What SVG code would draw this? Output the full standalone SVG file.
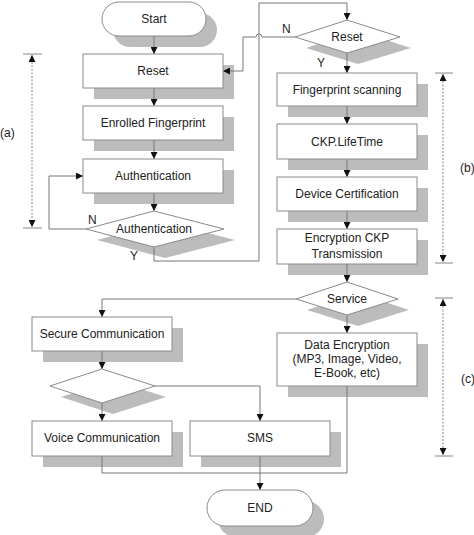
<svg xmlns="http://www.w3.org/2000/svg" width="474" height="535" viewBox="0 0 474 535">
<defs>
<style>
.box{fill:#fff;stroke:#8a8a8a;stroke-width:1}
.sh{fill:#bcbcbc;stroke:none}
.t{font-family:"Liberation Sans",Arial,sans-serif;font-size:12px;fill:#222;text-anchor:middle}
.lb{font-family:"Liberation Sans",Arial,sans-serif;font-size:12px;fill:#222}
.c{fill:none;stroke:#777;stroke-width:1}
.dot{fill:none;stroke:#888;stroke-width:1;stroke-dasharray:2,1.5}
.tick{stroke:#888;stroke-width:1}
</style>
<marker id="ah" viewBox="0 0 8 8" refX="8" refY="4" markerWidth="7" markerHeight="7" markerUnits="userSpaceOnUse" orient="auto">
<path d="M0,0 L8,4 L0,8 Z" fill="#111"/>
</marker>
<marker id="bh" viewBox="0 0 8 8" refX="8" refY="4" markerWidth="7" markerHeight="7" markerUnits="userSpaceOnUse" orient="auto-start-reverse">
<path d="M0,0 L8,4 L0,8 Z" fill="#111"/>
</marker>
</defs>
<rect width="474" height="535" fill="#fff"/>

<g id="shadows">
<rect class="sh" x="113" y="13" width="104" height="34" rx="17"/>
<rect class="sh" x="94" y="65" width="140" height="34"/>
<rect class="sh" x="94" y="117" width="140" height="34"/>
<rect class="sh" x="94" y="170" width="140" height="34"/>
<polygon class="sh" points="165,222 235,240 165,258 97,240"/>
<polygon class="sh" points="358,31 411,48 358,64 306,48"/>
<rect class="sh" x="288" y="84" width="140" height="33"/>
<rect class="sh" x="288" y="135" width="140" height="35"/>
<rect class="sh" x="288" y="188" width="140" height="34"/>
<rect class="sh" x="288" y="240" width="140" height="35"/>
<polygon class="sh" points="358,293 409,310 358,326 307,310"/>
<rect class="sh" x="288" y="344" width="140" height="53"/>
<rect class="sh" x="43" y="328" width="140" height="34"/>
<polygon class="sh" points="113,380 166,397 113,414 61,397"/>
<rect class="sh" x="43" y="432" width="140" height="35"/>
<rect class="sh" x="201" y="432" width="140" height="35"/>
<rect class="sh" x="218" y="501" width="106" height="36" rx="18"/>
</g>

<g id="connectors">
<path class="c" d="M154,36 V54" marker-end="url(#ah)"/>
<path class="c" d="M154,88 V106" marker-end="url(#ah)"/>
<path class="c" d="M154,140 V159" marker-end="url(#ah)"/>
<path class="c" d="M154,193 V211" marker-end="url(#ah)"/>
<path class="c" d="M86,229 H49 V176 H83" marker-end="url(#ah)"/>
<path class="c" d="M154,247 V261 H259 V3 H347 V20" marker-end="url(#ah)"/>
<path class="c" d="M295,37 H262 A3,3 0 0 0 256,37 H243 V71 H223" marker-end="url(#ah)"/>
<path class="c" d="M347,53 V73" marker-end="url(#ah)"/>
<path class="c" d="M347,106 V124" marker-end="url(#ah)"/>
<path class="c" d="M347,159 V177" marker-end="url(#ah)"/>
<path class="c" d="M347,211 V229" marker-end="url(#ah)"/>
<path class="c" d="M347,264 V282" marker-end="url(#ah)"/>
<path class="c" d="M296,299 H102 V317" marker-end="url(#ah)"/>
<path class="c" d="M347,315 V333" marker-end="url(#ah)"/>
<path class="c" d="M102,351 V369" marker-end="url(#ah)"/>
<path class="c" d="M102,403 V421" marker-end="url(#ah)"/>
<path class="c" d="M155,386 H260 V421" marker-end="url(#ah)"/>
<path class="c" d="M102,456 V473 H347 V386"/>
<path class="c" d="M260,456 V490" marker-end="url(#ah)"/>
</g>

<g id="start"><rect class="box" x="102" y="2" width="104" height="34" rx="17"/><text class="t" x="154" y="23">Start</text></g>
<g id="reset"><rect class="box" x="83" y="54" width="140" height="34"/><text class="t" x="153" y="75">Reset</text></g>
<g id="enrolled"><rect class="box" x="83" y="106" width="140" height="34"/><text class="t" x="153" y="127">Enrolled Fingerprint</text></g>
<g id="auth"><rect class="box" x="83" y="159" width="140" height="34"/><text class="t" x="153" y="180">Authentication</text></g>
<g id="auth-dec"><polygon class="box" points="154,211 224,229 154,247 86,229"/><text class="t" x="154" y="233">Authentication</text></g>
<g id="reset-dec"><polygon class="box" points="347,20 400,37 347,53 295,37"/><text class="t" x="347" y="41">Reset</text></g>
<g id="fp-scan"><rect class="box" x="277" y="73" width="140" height="33"/><text class="t" x="347" y="94">Fingerprint scanning</text></g>
<g id="ckp"><rect class="box" x="277" y="124" width="140" height="35"/><text class="t" x="347" y="146">CKP.LifeTime</text></g>
<g id="device"><rect class="box" x="277" y="177" width="140" height="34"/><text class="t" x="347" y="198">Device Certification</text></g>
<g id="enc-ckp"><rect class="box" x="277" y="229" width="140" height="35"/><text class="t" x="347" y="242">Encryption CKP</text><text class="t" x="347" y="258">Transmission</text></g>
<g id="service"><polygon class="box" points="347,282 398,299 347,315 296,299"/><text class="t" x="347" y="303">Service</text></g>
<g id="data-enc"><rect class="box" x="277" y="333" width="140" height="53"/><text class="t" x="347" y="349">Data Encryption</text><text class="t" x="347" y="363">(MP3, Image, Video,</text><text class="t" x="347" y="377">E-Book, etc)</text></g>
<g id="secure"><rect class="box" x="32" y="317" width="140" height="34"/><text class="t" x="102" y="338">Secure Communication</text></g>
<g id="choice"><polygon class="box" points="102,369 155,386 102,403 50,386"/></g>
<g id="voice"><rect class="box" x="32" y="421" width="140" height="35"/><text class="t" x="102" y="442">Voice Communication</text></g>
<g id="sms"><rect class="box" x="190" y="421" width="140" height="35"/><text class="t" x="260" y="442">SMS</text></g>
<g id="end"><rect class="box" x="207" y="490" width="106" height="36" rx="18"/><text class="t" x="260" y="512">END</text></g>

<g id="labels">
<text class="lb" x="88" y="224">N</text>
<text class="lb" x="130" y="260">Y</text>
<text class="lb" x="282" y="33">N</text>
<text class="lb" x="317" y="67">Y</text>
</g>

<g id="brackets">
<line class="tick" x1="23" y1="54" x2="42" y2="54"/>
<line class="tick" x1="23" y1="228" x2="42" y2="228"/>
<path class="dot" d="M32,55 V227" marker-start="url(#bh)" marker-end="url(#bh)"/>
<text class="lb" x="0" y="137">(a)</text>
<line class="tick" x1="435" y1="73" x2="453" y2="73"/>
<line class="tick" x1="435" y1="263" x2="453" y2="263"/>
<path class="dot" d="M443,74 V262" marker-start="url(#bh)" marker-end="url(#bh)"/>
<text class="lb" x="460" y="172">(b)</text>
<line class="tick" x1="435" y1="298" x2="453" y2="298"/>
<line class="tick" x1="435" y1="456" x2="453" y2="456"/>
<path class="dot" d="M443,299 V455" marker-start="url(#bh)" marker-end="url(#bh)"/>
<text class="lb" x="461" y="383">(c)</text>
</g>
</svg>
